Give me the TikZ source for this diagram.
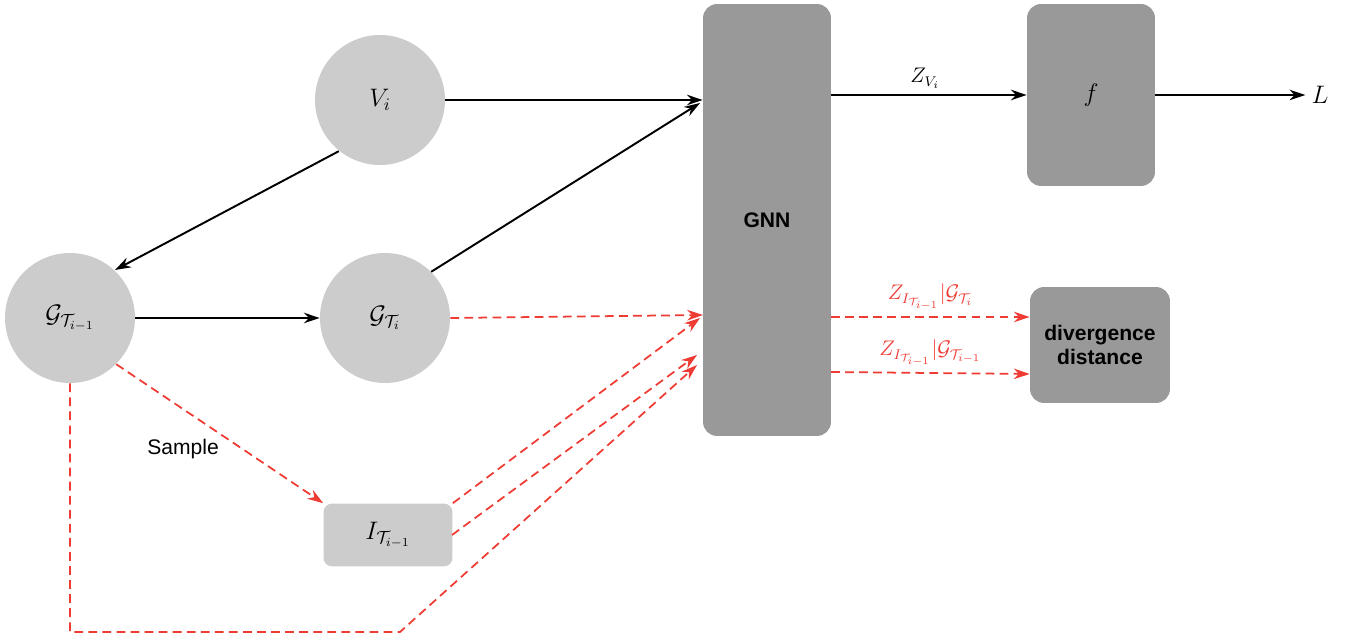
\documentclass[tikz,border=0pt]{standalone}
\usepackage{amsmath}
\usepackage{fontspec}
\setsansfont{Liberation Sans}
\usetikzlibrary{arrows.meta}
\definecolor{lightg}{HTML}{CCCCCC}
\definecolor{darkg}{HTML}{999999}
\definecolor{redd}{HTML}{EE3B33}
\tikzset{
  x=0.02cm, y=-0.02cm,
  circ/.style={circle, fill=lightg, minimum size=2.6cm, inner sep=0pt, font=\Large},
  darkbox/.style={rounded corners=8pt, fill=darkg, inner sep=0pt},
  blk/.style={-{Stealth[length=9pt,width=6pt]}, line width=1.1pt, black},
  rdash/.style={-{Stealth[length=9pt,width=6pt]}, line width=1pt, redd, dash pattern=on 5pt off 3pt},
  lab/.style={font=\large},
}
\begin{document}
\begin{tikzpicture}
\useasboundingbox (0,0) rectangle (1356,644);
% nodes
\node[circ] (vi) at (380,100) {$V_i$};
\node[circ] (gp) at (70,318) {$\mathcal{G}_{\mathcal{T}_{i-1}}$};
\node[circ] (gi) at (385,318) {$\mathcal{G}_{\mathcal{T}_i}$};
\node[rounded corners=5pt, fill=lightg, minimum width=2.58cm, minimum height=1.26cm, font=\Large] (ib) at (388,535) {$I_{\mathcal{T}_{i-1}}$};
\node[darkbox, minimum width=2.56cm, minimum height=8.64cm, font=\sffamily\bfseries\large] (gnn) at (767,220) {GNN};
\node[darkbox, minimum width=2.56cm, minimum height=3.64cm, font=\Large] (f) at (1091,95) {$f$};
\node[darkbox, minimum width=2.8cm, minimum height=2.32cm, align=center, font=\sffamily\bfseries\large] (dd) at (1100,345) {divergence\\distance};
\node[font=\Large] (L) at (1320,95) {$L$};
\coordinate (c1) at (70,632);
\coordinate (c2) at (400,632);
% black arrows
\draw[blk] (vi.east) -- (gnn.west |- 0,100);
\draw[blk] (vi.south west) ++(5,5) -- (115,270);
\draw[blk] (gp.east) -- (gi.west);
\draw[blk] (gi.north east) -- (700,103);
\draw[blk] (gnn.east |- 0,95) -- node[above, lab, pos=0.48] {$Z_{V_i}$} (f.west |- 0,95);
\draw[blk] (f.east |- 0,95) -- (L.west);
% red dashed
\draw[rdash] (gi.east) -- (703,315);
\draw[rdash] (gp.south east) -- (ib.north west);
\node[font=\sffamily\large] (smp) at (183,449) {Sample};
\draw[rdash] (ib.north east) -- (700,318);
\draw[rdash] (452,535) -- (697,355);
\draw[rdash] (gp.south) -- (c1) -- (c2) -- (697,365);
\draw[rdash] (831,317) -- node[above, lab] {$Z_{I_{\mathcal{T}_{i-1}}}|\mathcal{G}_{\mathcal{T}_i}$} (dd.west |- 0,317);
\draw[rdash] (831,372) -- node[above, lab] {$Z_{I_{\mathcal{T}_{i-1}}}|\mathcal{G}_{\mathcal{T}_{i-1}}$} (dd.west |- 0,374);
\end{tikzpicture}
\end{document}
